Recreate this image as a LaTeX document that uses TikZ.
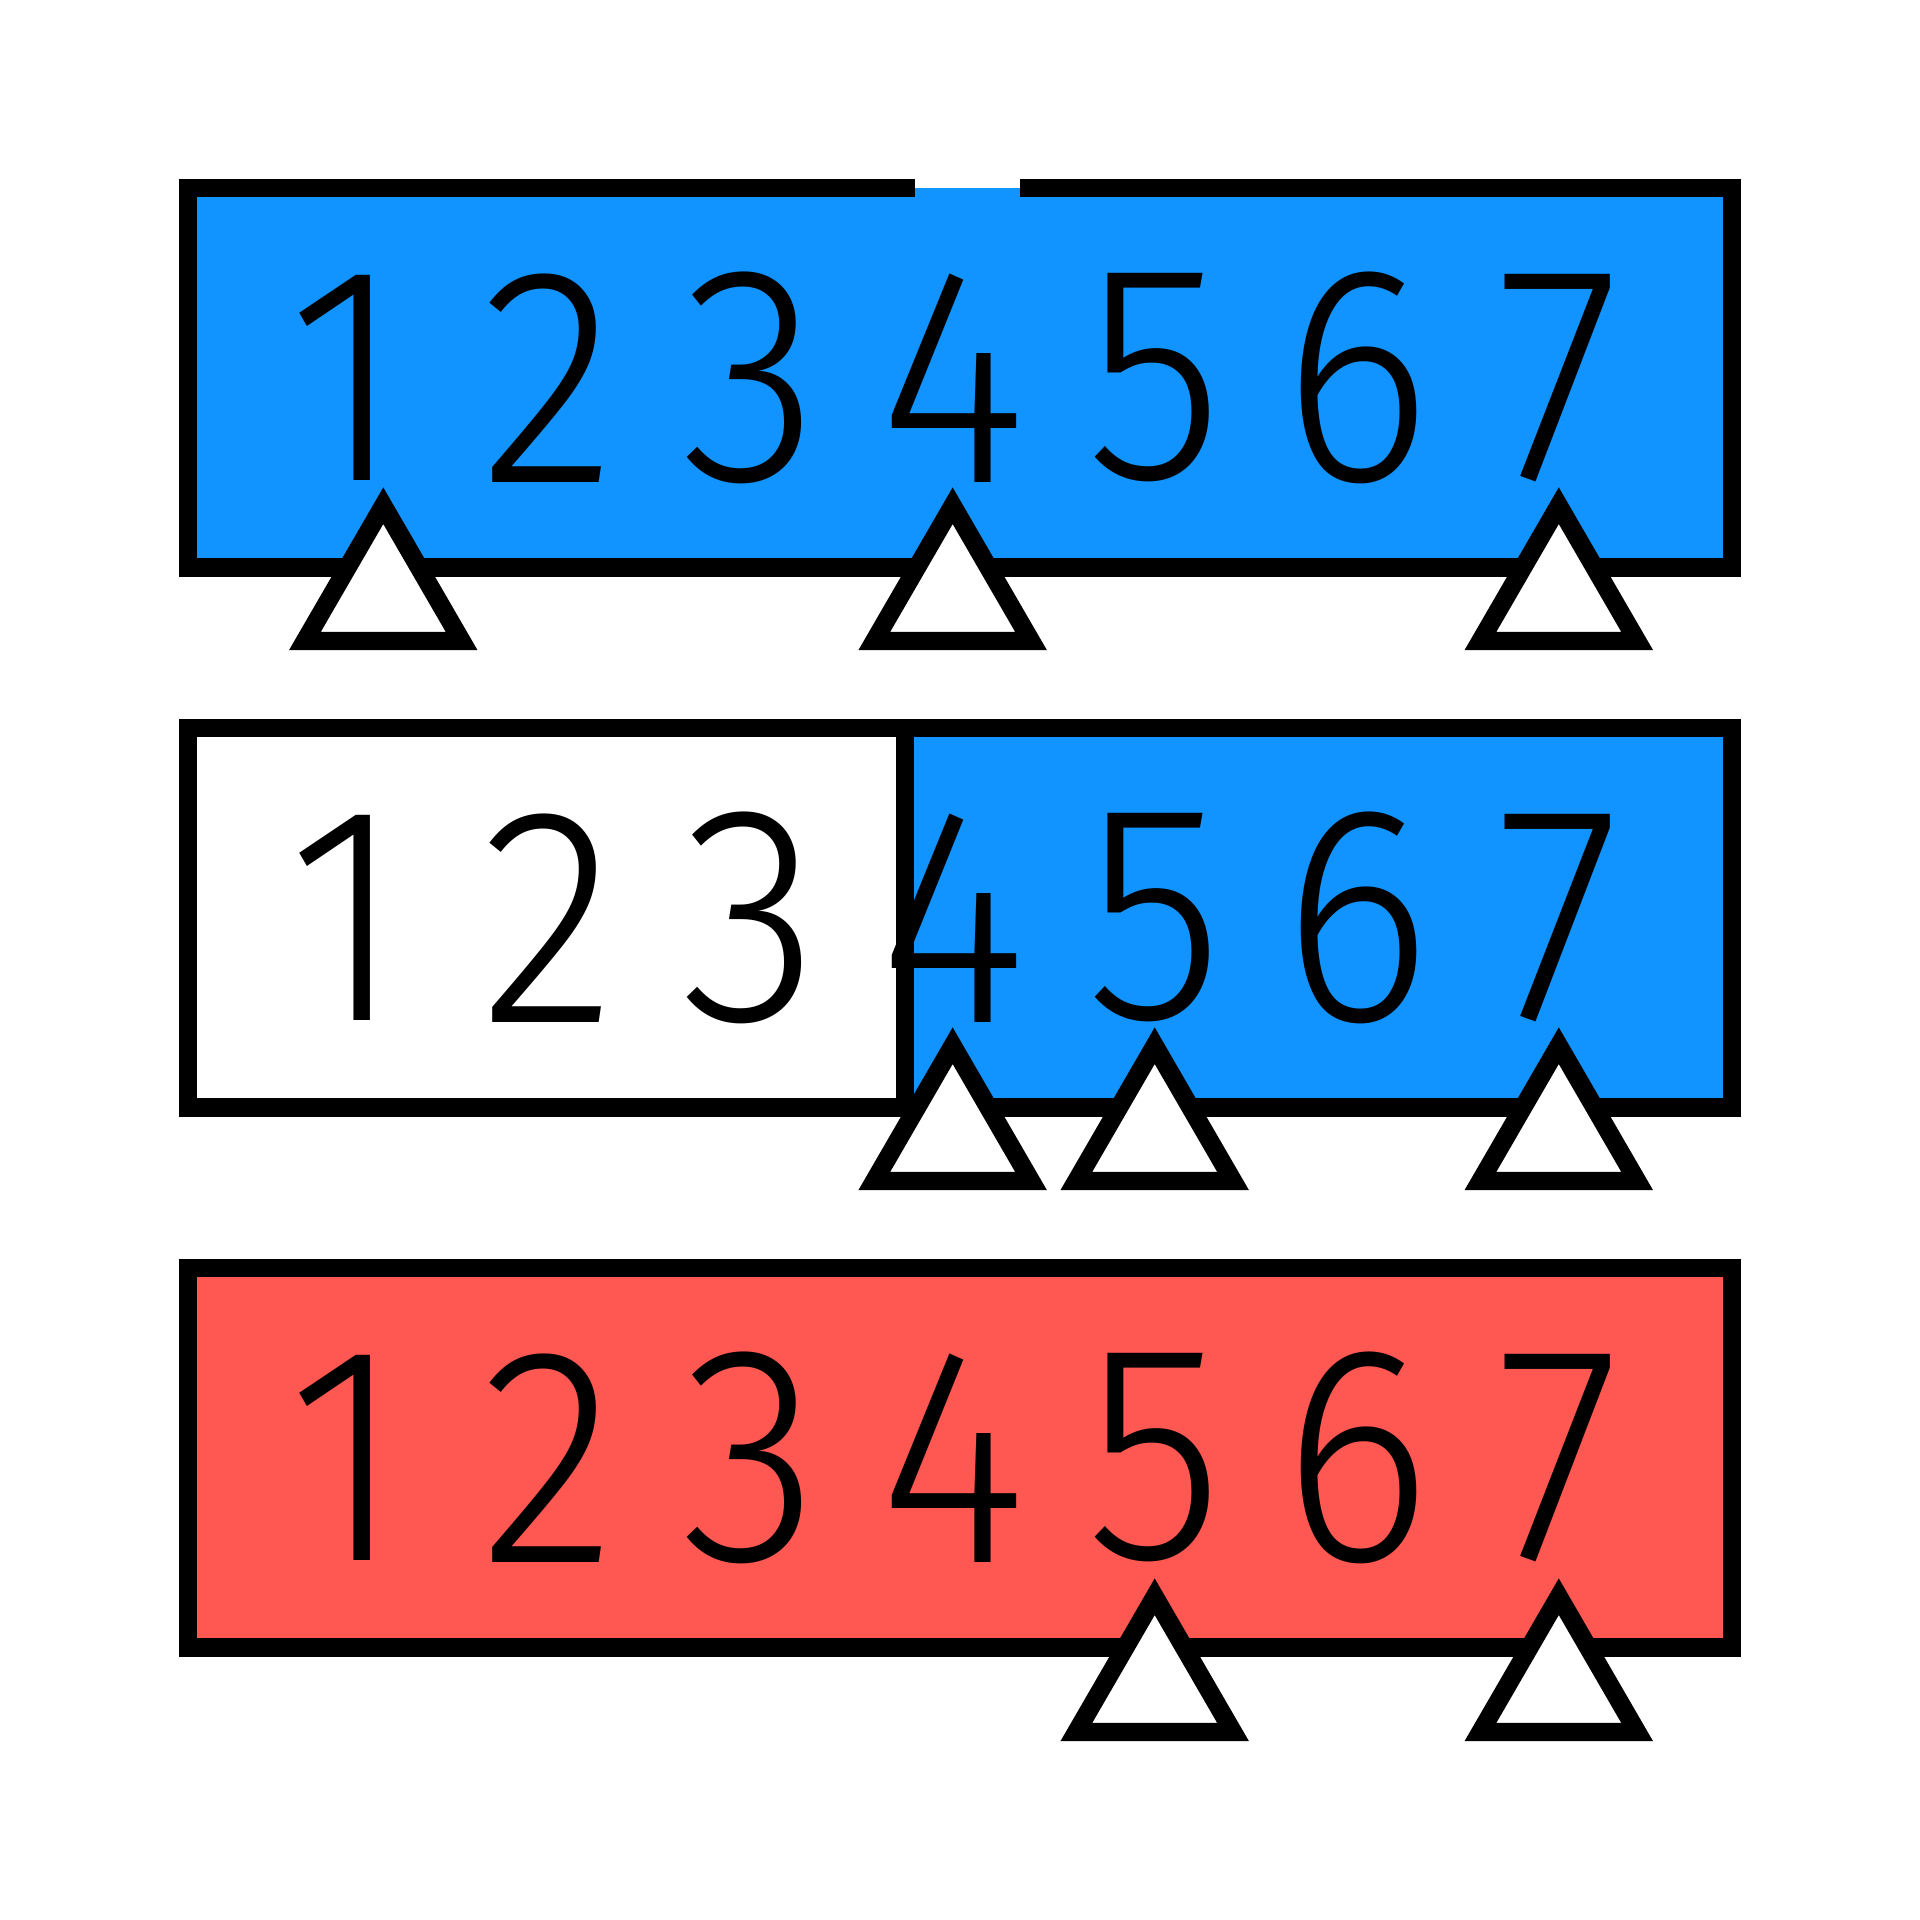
\documentclass[tikz,border=0pt]{standalone}
\usepackage{graphicx}
\usepackage{fontspec}
\IfFontExistsTF{Fira Sans Book}
  {\newfontfamily\digitfont{Fira Sans Book}}
  {\newfontfamily\digitfont{Fira Sans Light}}
\definecolor{panelblue}{HTML}{1194FF}
\definecolor{panelred}{HTML}{FF5751}
\tikzset{
  frame/.style={line width=15pt,draw=black},
  digit/.style={inner sep=0pt,font=\digitfont\fontsize{252}{252}\selectfont},
  pointer/.style={line width=15pt,draw=black,fill=white},
}
\newcommand\drawtri[2]{\draw[pointer] (#1,#2) -- ++(-64,110.5) -- ++(128,0) -- cycle;}
\begin{document}
\begin{tikzpicture}[x=1pt,y=-1pt]
\fill[white] (0,0) rectangle (1568,1568);
\useasboundingbox (0,0) rectangle (1568,1568);
% first row: all blue, gap in the top edge
\fill[panelblue] (153.5,153.5) rectangle (1414.5,463.5);
\foreach \d in {1,...,7}
  \node[digit] (a\d) at ({283+165*(\d-1)},308.5) {\scalebox{.92}[1]{\d}};
\draw[frame] (747,153.5) -- (153.5,153.5) -- (153.5,463.5) -- (1414.5,463.5) -- (1414.5,153.5) -- (833,153.5);
\foreach \x in {313,778,1273} {\drawtri{\x}{413}}
% second row: blue from the fourth digit on
\fill[panelblue] (739,594.5) rectangle (1414.5,904.5);
\foreach \d in {1,...,7}
  \node[digit] (b\d) at ({283+165*(\d-1)},749.5) {\scalebox{.92}[1]{\d}};
\draw[frame] (153.5,594.5) rectangle (1414.5,904.5);
\draw[frame] (739,594.5) -- (739,904.5);
\foreach \x in {778,943,1273} {\drawtri{\x}{854}}
% third row: red
\fill[panelred] (153.5,1035.5) rectangle (1414.5,1345.5);
\foreach \d in {1,...,7}
  \node[digit] (c\d) at ({283+165*(\d-1)},1190.5) {\scalebox{.92}[1]{\d}};
\draw[frame] (153.5,1035.5) rectangle (1414.5,1345.5);
\foreach \x in {943,1273} {\drawtri{\x}{1304}}
\end{tikzpicture}
\end{document}
